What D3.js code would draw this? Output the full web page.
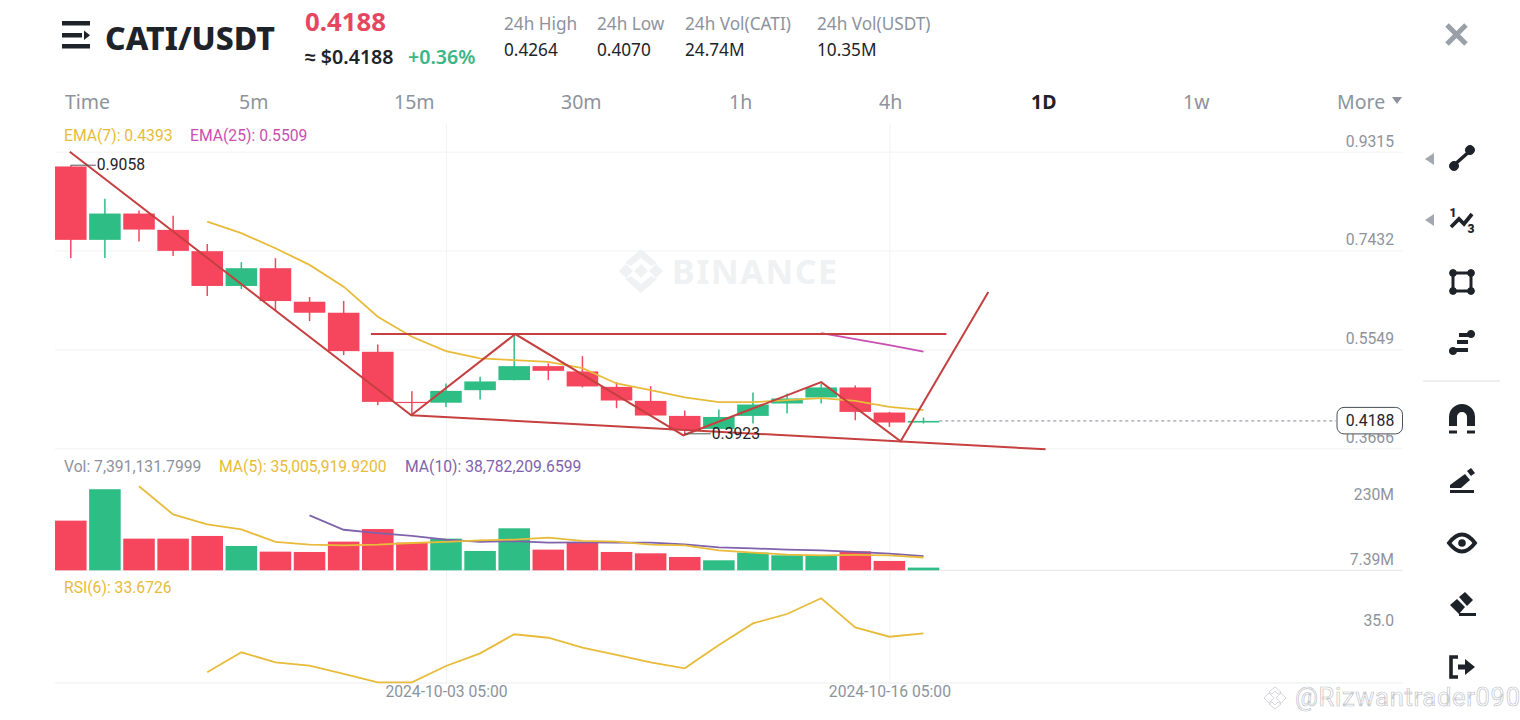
<!DOCTYPE html>
<html><head><meta charset="utf-8">
<style>html,body{margin:0;padding:0;background:#fff;overflow:hidden}svg{display:block}
.axis path.domain{display:none}</style>
<script src="https://cdn.jsdelivr.net/npm/d3@7"></script></head><body><svg id="c" width="1520" height="720"></svg>
<script>
// ---------- data ----------
const dates=["2024-09-22 05:00","2024-09-23 05:00","2024-09-24 05:00","2024-09-25 05:00","2024-09-26 05:00","2024-09-27 05:00","2024-09-28 05:00","2024-09-29 05:00","2024-09-30 05:00","2024-10-01 05:00","2024-10-02 05:00","2024-10-03 05:00","2024-10-04 05:00","2024-10-05 05:00","2024-10-06 05:00","2024-10-07 05:00","2024-10-08 05:00","2024-10-09 05:00","2024-10-10 05:00","2024-10-11 05:00","2024-10-12 05:00","2024-10-13 05:00","2024-10-14 05:00","2024-10-15 05:00","2024-10-16 05:00","2024-10-17 05:00"];
const opens =[.9034,.7636,.8137,.7826,.7420,.6758,.7096,.6458,.6248,.5504,.4550,.4534,.4773,.4964,.5231,.5130,.4836,.4569,.4283,.4035,.4283,.4519,.4634,.4825,.4347,.4157];
const closes=[.7636,.8137,.7832,.7426,.6758,.7096,.6471,.6248,.5517,.4550,.4538,.4760,.4939,.5231,.5141,.4844,.4576,.4290,.4010,.4263,.4500,.4615,.4825,.4359,.4157,.4188];
const highs =[.9058,.8418,.8195,.8094,.7559,.7210,.7286,.6548,.6471,.5645,.4754,.4901,.5027,.5823,.5283,.5422,.4926,.4849,.4386,.4405,.4729,.4710,.4901,.4863,.4359,.4253];
const lows  =[.7292,.7292,.7603,.7330,.6567,.6701,.6286,.6090,.5441,.4487,.4309,.4454,.4596,.4964,.4964,.4825,.4430,.4290,.3923,.4010,.4138,.4328,.4519,.4200,.4073,.4138];
const volumes=[136,222,86.7,86.7,94,66.6,51.1,50.2,78.5,113,75.8,86.7,53,115,56.6,75.8,50.2,46.5,36.5,27.4,48.4,41,41,52,25.6,7.39];
const ema7=[null,null,null,null,.7985,.7763,.7477,.7159,.6744,.6172,.5790,.5517,.5378,.5346,.5313,.5193,.4901,.4773,.4634,.4544,.4544,.4582,.4620,.4569,.4454,.4393];
const ema25=[...Array(22).fill(null),.5861,.5746,.5632,.5509];
const ma5=[null,null,230,153,126,112,77.6,70.3,68.5,70.3,74.8,77.6,82,84,89.4,80.3,78.5,70.3,68.5,54.8,48.4,42.9,41,42,41,35.006];
const ma10=[null,null,null,null,null,null,null,150.6,111,102,94,84,77.6,80,75.8,76.7,75.8,75.8,71,63,60,56.6,54.8,50.2,45.6,38.782];
const rsi6=[null,null,null,null,11.2,22.7,16.9,15,10.2,5.4,5.4,14.8,22.1,33.1,31.1,25.4,21.2,16.9,13.5,26.9,39.4,44.8,53.9,37.1,31.7,33.6726];
const zigzagIdx=[-.03,9.98,13.03,17.96,22,24.33,26.9];
const zigzagPrice=[.9315,.4296,.5842,.3914,.4926,.3800,.6643];
const resistanceIdx=[8.8,25.67], resistancePrice=[.5842,.5842];
const supportIdx=[9.98,28.58], supportPrice=[.4296,.3647];
const priceTicks=[.9315,.7432,.5549,.3666];
const volTicks=[230,7.39];
const rsiTicks=[35];
const dateTicks=["2024-10-03 05:00","2024-10-16 05:00"];
const tabs=["Time","5m","15m","30m","1h","4h","1D","1w","More"];
const stats=[["24h High","0.4264"],["24h Low","0.4070"],["24h Vol(CATI)","24.74M"],["24h Vol(USDT)","10.35M"]];
// ---------- style ----------
const RED="#f6465d",GREEN="#2ebd85",YEL="#e8bb3a",MAG="#c94fb0",PUR="#7f62ab",DRAW="#c5403f",GRID="#f1f2f3",GRAY="#8d939c",DARK="#1e2329";
const PL="Roboto, sans-serif", HD="'Noto Sans', sans-serif", LS=15.7;
const svg=d3.select("#c");
const n=dates.length;
const x=d3.scaleLinear([0,n-1],[70.8,923.5]);
const y=d3.scaleLinear([.3666,.9315],[448.3,151.7]);
const yV=d3.scaleLinear([0,230],[570.3,486.3]);
const yR=d3.scaleLinear([5,35],[683,631]);
const step=x(1)-x(0), bw=step*.925;
const idx=d3.range(n);
const txt=(s,px,py,o={})=>svg.append("text").text(s).attr("x",px).attr("y",py).attr("dominant-baseline","central")
  .attr("font-family",o.f||PL).attr("font-size",o.s||LS).attr("font-weight",o.w||400).attr("fill",o.c||GRAY).attr("text-anchor",o.a||"start");

// watermark
const wm=svg.append("g").attr("transform","translate(641,271)").attr("fill","#f0f1f2");
[[-15,0],[15,0],[0,0]].forEach(([a,b])=>wm.append("rect").attr("x",-5).attr("y",-5).attr("width",10).attr("height",10).attr("transform",`translate(${a},${b}) rotate(45)`));
wm.append("path").attr("d","M-16 -8L0 -22L16 -8L10 -5L0 -13L-10 -5Z M-16 8L0 22L16 8L10 5L0 13L-10 5Z");
txt("BINANCE",672,270.5,{f:HD,s:34,w:700,c:"#f0f1f2"}).attr("letter-spacing",1.6);

// grids via axes
const gy=svg.append("g").attr("class","axis").attr("transform","translate(1403,0)")
  .call(d3.axisLeft(y).tickValues(priceTicks).tickFormat(d3.format(".4f")).tickSize(1348));
gy.selectAll("line").attr("stroke",GRID).attr("stroke-width",1);
gy.selectAll("text").attr("x",-9).attr("dy",-5.6).attr("font-family",PL).attr("font-size",LS).attr("fill",GRAY);
const gx=svg.append("g").attr("class","axis").attr("transform","translate(0,683)")
  .call(d3.axisBottom(x).tickValues(dateTicks.map(d=>dates.indexOf(d))).tickFormat(i=>dates[i]).tickSize(-559));
gx.selectAll("line").attr("stroke",GRID);
gx.selectAll("text").attr("y",8.5).attr("dy",".32em").attr("font-family",PL).attr("font-size",LS).attr("fill",GRAY);
[[yV(0),"#e9eaec"],[yR(5),"#eceded"]].forEach(([v,c])=>svg.append("line").attr("x1",55).attr("x2",1403).attr("y1",v).attr("y2",v).attr("stroke",c).attr("stroke-width",1.2));

const gv=svg.append("g").attr("class","axis").attr("transform","translate(1394,0)")
  .call(d3.axisLeft(yV).tickValues(volTicks).tickFormat(d=>d+"M").tickSize(0));
gv.selectAll("text").attr("x",0).attr("dy",d=>d===230?12.7:-3.2).attr("font-family",PL).attr("font-size",LS).attr("fill",GRAY);
const gr=svg.append("g").attr("class","axis").attr("transform","translate(1394,0)")
  .call(d3.axisLeft(yR).tickValues(rsiTicks).tickFormat(d3.format(".1f")).tickSize(0));
gr.selectAll("text").attr("x",0).attr("dy",-5.5).attr("font-family",PL).attr("font-size",LS).attr("fill",GRAY);

// candles
const col=i=>closes[i]>=opens[i]?GREEN:RED;
svg.append("g").selectAll("line").data(idx).join("line").attr("x1",x).attr("x2",x).attr("y1",i=>y(highs[i])).attr("y2",i=>y(lows[i])).attr("stroke",col).attr("stroke-width",1.5);
svg.append("g").selectAll("rect").data(idx).join("rect").attr("x",i=>x(i)-bw/2).attr("width",bw)
  .attr("y",i=>Math.min(y(opens[i]),y(closes[i]))).attr("height",i=>Math.max(1.2,Math.abs(y(opens[i])-y(closes[i])))).attr("fill",col);
// volume
svg.append("g").selectAll("rect").data(idx).join("rect").attr("x",i=>x(i)-bw/2).attr("width",bw)
  .attr("y",i=>yV(volumes[i])).attr("height",i=>yV(0)-yV(volumes[i])).attr("fill",col);
// lines
const ln=(arr,sc,c,w=1.8)=>svg.append("path").datum(idx).attr("fill","none").attr("stroke",c).attr("stroke-width",w)
  .attr("d",d3.line().defined(i=>arr[i]!==null).x(i=>x(i)).y(i=>sc(arr[i])));
ln(ema7,y,YEL);ln(ema25,y,MAG);ln(ma10,yV,PUR);ln(ma5,yV,YEL);ln(rsi6,yR,YEL);
// hand drawn lines
const dl=(xs,ps,w=2)=>svg.append("path").datum(xs.map((v,i)=>[v,ps[i]])).attr("fill","none").attr("stroke",DRAW).attr("stroke-width",w).attr("stroke-linejoin","miter")
  .attr("d",d3.line().x(d=>x(d[0])).y(d=>y(d[1])));
dl(resistanceIdx,resistancePrice);dl(supportIdx,supportPrice);dl(zigzagIdx,zigzagPrice);
// high/low marks
const hi=0,lo=18;
svg.append("line").attr("x1",x(hi)).attr("x2",x(hi)+25).attr("y1",y(highs[hi])).attr("y2",y(highs[hi])).attr("stroke","#555").attr("stroke-width",1);
txt("0.9058",x(hi)+26,y(highs[hi])-1,{c:DARK});
svg.append("line").attr("x1",x(lo)).attr("x2",x(lo)+26).attr("y1",y(lows[lo])-1).attr("y2",y(lows[lo])-1).attr("stroke","#555").attr("stroke-width",1);
txt("0.3923",x(lo)+27,y(lows[lo])-1,{c:DARK});
// current price
const last=closes[n-1];
svg.append("line").attr("x1",x(n-1)+bw/2).attr("x2",1336).attr("y1",y(last)).attr("y2",y(last)).attr("stroke","#9aa0a8").attr("stroke-width",1.2).attr("stroke-dasharray","3 3");
svg.append("rect").attr("x",1337).attr("y",y(last)-13.5).attr("width",65.5).attr("height",26.5).attr("rx",7).attr("fill","#fff").attr("stroke","#474d57").attr("stroke-width",1);
txt("0.4188",1370,y(last),{c:DARK,s:15.8,a:"middle"});
// legends
txt("EMA(7): 0.4393",64,135,{c:YEL});txt("EMA(25): 0.5509",190,135,{c:MAG});
txt("Vol: 7,391,131.7999",64,466,{c:GRAY});txt("MA(5): 35,005,919.9200",219,466,{c:YEL});txt("MA(10): 38,782,209.6599",405,466,{c:PUR});
txt("RSI(6): 33.6726",64,587,{c:YEL});
// header
const lg=svg.append("g").attr("fill",DARK);
lg.append("rect").attr("x",62).attr("y",21).attr("width",28).attr("height",4.5);
lg.append("rect").attr("x",62).attr("y",33).attr("width",20).attr("height",4.5);
lg.append("path").attr("d","M84 30.5L90 35.2L84 40Z");
lg.append("rect").attr("x",62).attr("y",44).attr("width",28).attr("height",4.5);
txt("CATI/USDT",105,37,{f:HD,s:32,w:800,c:DARK});
txt("0.4188",305,21,{f:HD,s:25.8,w:700,c:"#e5475f"});
txt("≈ $0.4188",305,56.5,{f:HD,s:19.6,w:600,c:DARK});
txt("+0.36%",408,56.5,{f:HD,s:19.6,w:600,c:"#3cb584"});
const statX=[504,597,685,817];
stats.forEach((s,i)=>{txt(s[0],statX[i],23,{f:HD,s:17.2,c:GRAY});txt(s[1],statX[i],49,{f:HD,s:17.2,c:DARK});});
const tabX=[65,239,394,561,729,879,1031,1183,1337];
tabs.forEach((t,i)=>txt(t,tabX[i],101,{f:HD,s:19.5,w:t==="1D"?700:400,c:t==="1D"?DARK:GRAY}));
svg.append("path").attr("d","M1392 97H1402L1397 104Z").attr("fill",GRAY);
svg.append("path").attr("d","M1447 25L1466 44M1466 25L1447 44").attr("stroke","#9aa0a8").attr("stroke-width",5).attr("fill","none");
// toolbar
const tb=svg.append("g").attr("fill",DARK).attr("stroke",DARK);
const I=(yy,fn)=>fn(tb.append("g").attr("transform",`translate(1462,${yy})`));
svg.append("path").attr("d","M1434 153V165L1425 159Z M1434 214V226L1425 220Z").attr("fill","#a3a8b0");
svg.append("line").attr("x1",1423).attr("x2",1500).attr("y1",381).attr("y2",381).attr("stroke","#e9eaec").attr("stroke-width",1.5);
I(158,g=>{g.append("path").attr("d","M-9 8L9 -8").attr("stroke-width",3.5);g.append("circle").attr("cx",-8).attr("cy",8).attr("r",4.5);g.append("circle").attr("cx",8).attr("cy",-8).attr("r",4.5);});
I(220,g=>{g.append("path").attr("d","M-11 7L-3 -1L2 4L10 -6").attr("fill","none").attr("stroke-width",3.8);
 g.append("text").text("1").attr("x",-9).attr("y",-3).attr("font-size",12).attr("font-weight",900).attr("stroke","none").attr("text-anchor","middle").attr("font-family",PL);
 g.append("text").text("3").attr("x",9).attr("y",13).attr("font-size",12).attr("font-weight",900).attr("stroke","none").attr("text-anchor","middle").attr("font-family",PL);});
I(282,g=>{g.append("rect").attr("x",-9).attr("y",-9).attr("width",18).attr("height",18).attr("fill","none").attr("stroke-width",3);[[-9,-9],[9,-9],[-9,9],[9,9]].forEach(([a,b])=>g.append("circle").attr("cx",a).attr("cy",b).attr("r",3.4));});
I(343,g=>{g.append("path").attr("d","M-3 -8H9M-5 -1H6M-9 7H6").attr("stroke-width",4).attr("fill","none");g.append("circle").attr("cx",9).attr("cy",-9).attr("r",3.6);g.append("circle").attr("cx",-9).attr("cy",8).attr("r",3.6);});
I(419,g=>{g.append("path").attr("d","M-9 7V-2A9 9 0 0 1 9 -2V7").attr("fill","none").attr("stroke-width",8);g.append("path").attr("d","M-13 13H-5M5 13H13").attr("stroke-width",3);});
I(481,g=>{g.append("path").attr("d","M-12 4L3 -7L8 -1L-1 7L-12 7Z").attr("stroke","none");g.append("path").attr("d","M5 -10L9 -13L13 -8L9 -5Z").attr("stroke","none");g.append("rect").attr("x",-12).attr("y",9).attr("width",24).attr("height",3).attr("stroke","none");});
I(543,g=>{g.append("path").attr("d","M-13 0Q0 -17 13 0Q0 17 -13 0Z").attr("fill","none").attr("stroke-width",3.8);g.append("circle").attr("r",3.8).attr("stroke","none");});
I(605,g=>{g.append("path").attr("d","M-12 0L-5 -6L3 2L-3 9Z M-3 -8L3 -13L11 -5L5 1Z M-3 8H14V11H-3Z").attr("stroke","none");});
I(667,g=>{g.append("path").attr("d","M-4 -10H-11V10H-4").attr("fill","none").attr("stroke-width",3.6);g.append("path").attr("d","M-4 -2.5H3V-8L13 0L3 8V2.5H-4Z").attr("stroke","none");});
// bottom watermark
const bw2=svg.append("g").attr("transform","translate(1275,698)").attr("fill","none").attr("stroke","#c9ccd1").attr("stroke-width",.8);
bw2.append("path").attr("d","M-11 0L-6 -5L-1 0L-6 5Z M1 0L6 -5L11 0L6 5Z M-6 -6L0 -11L6 -6L3 -4L0 -7L-3 -4Z M-6 6L0 11L6 6L3 4L0 7L-3 4Z");
txt("@Rizwantrader090",1295,697,{s:25.5,c:"#fff"}).attr("stroke","#c2c5ca").attr("stroke-width",.7).attr("letter-spacing",.7);
</script></body></html>
